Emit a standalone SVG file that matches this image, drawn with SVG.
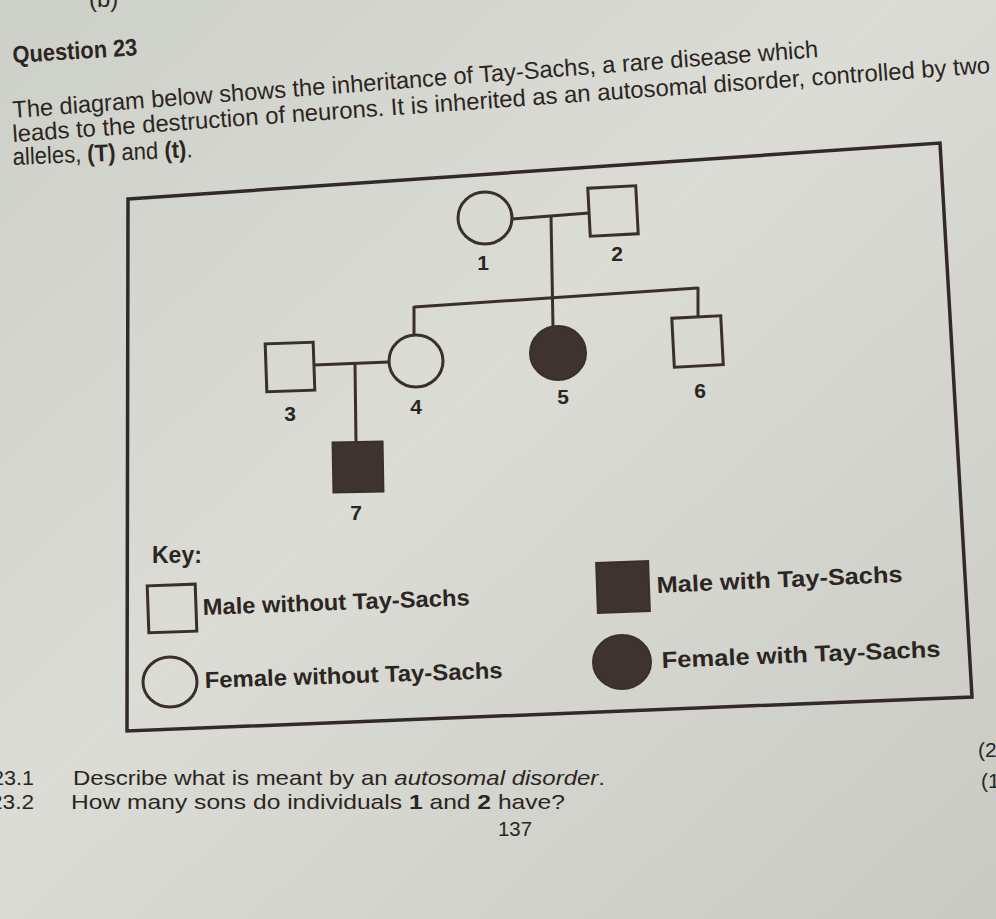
<svg xmlns="http://www.w3.org/2000/svg" width="996" height="919" viewBox="0 0 996 919">
<defs>
<linearGradient id="bg" x1="0" y1="0" x2="1" y2="1">
<stop offset="0" stop-color="#cdd0c8"/>
<stop offset="0.45" stop-color="#dadcd5"/>
<stop offset="1" stop-color="#c8cac3"/>
</linearGradient>
<style>
text{font-family:"Liberation Sans",Arial,sans-serif;fill:#2c2522}
.t{font-size:24px}
.b{font-weight:bold}
.lbl{font-size:21px;font-weight:bold;text-anchor:middle}
.key{font-size:23px;font-weight:bold}
.q{font-size:21px}
.open{fill:none;stroke:#3a2f2b;stroke-width:3}
.fill{fill:#3e3330;stroke:#3a2f2b;stroke-width:2}
.ln{stroke:#3a2f2b;stroke-width:3;fill:none}
</style>
</defs>
<rect width="996" height="919" fill="url(#bg)"/>

<text class="t" x="89" y="7">(b)</text>
<text class="t b" x="13" y="63" textLength="125" lengthAdjust="spacingAndGlyphs" transform="rotate(-3.6 13 63)">Question 23</text>
<text class="t" x="13" y="118" textLength="808" lengthAdjust="spacingAndGlyphs" transform="rotate(-4.33 13 118)">The diagram below shows the inheritance of Tay-Sachs, a rare disease which</text>
<text class="t" x="13" y="142" textLength="980" lengthAdjust="spacingAndGlyphs" transform="rotate(-4.04 13 142)">leads to the destruction of neurons. It is inherited as an autosomal disorder,  controlled by two</text>
<text class="t" x="13" y="165" textLength="180" lengthAdjust="spacingAndGlyphs" transform="rotate(-2.5 13 165)">alleles, <tspan class="b">(T)</tspan> and <tspan class="b">(t)</tspan>.</text>

<polygon id="frame" points="128,199 940,143 972,697 127,731" fill="none" stroke="#33292a" stroke-width="3.5"/>

<g id="connectors">
<line class="ln" x1="512" y1="219" x2="589" y2="213"/>
<line class="ln" x1="551" y1="216" x2="553" y2="327"/>
<line class="ln" x1="414" y1="307" x2="698" y2="288"/>
<line class="ln" x1="414" y1="306" x2="414" y2="335"/>
<line class="ln" x1="698" y1="287" x2="698" y2="317"/>
<line class="ln" x1="314" y1="365" x2="389" y2="362"/>
<line class="ln" x1="355" y1="364" x2="356" y2="442"/>
</g>

<g id="n1"><ellipse class="open" cx="485" cy="218" rx="27" ry="26"/><text class="lbl" x="483" y="270">1</text></g>
<g id="n2"><rect class="open" x="589" y="187" width="48" height="48" transform="rotate(-3 613 211)"/><text class="lbl" x="617" y="261">2</text></g>
<g id="n3"><rect class="open" x="266" y="343" width="48" height="48" transform="rotate(-2 290 367)"/><text class="lbl" x="290" y="421">3</text></g>
<g id="n4"><ellipse class="open" cx="416" cy="361" rx="27" ry="26"/><text class="lbl" x="416" y="414">4</text></g>
<g id="n5"><ellipse class="fill" cx="558" cy="353" rx="28" ry="27"/><text class="lbl" x="563" y="404">5</text></g>
<g id="n6"><rect class="open" x="673" y="317" width="49" height="49" transform="rotate(-3 697 341)"/><text class="lbl" x="700" y="398">6</text></g>
<g id="n7"><rect class="fill" x="333" y="442" width="50" height="50" transform="rotate(-1 358 467)"/><text class="lbl" x="356" y="520">7</text></g>

<g id="key">
<text class="key" x="152" y="563">Key:</text>
<rect class="open" x="148" y="585" width="48" height="47" transform="rotate(-2 172 608)"/>
<text class="key" x="203" y="615" textLength="267" lengthAdjust="spacingAndGlyphs" transform="rotate(-2.1 203 615)">Male without Tay-Sachs</text>
<rect class="fill" x="597" y="562" width="52" height="50" transform="rotate(-2 623 587)"/>
<text class="key" x="657" y="593" textLength="246" lengthAdjust="spacingAndGlyphs" transform="rotate(-2.6 657 593)">Male with Tay-Sachs</text>
<ellipse class="open" cx="170" cy="682" rx="27" ry="25"/>
<text class="key" x="205" y="688" textLength="298" lengthAdjust="spacingAndGlyphs" transform="rotate(-1.9 205 688)">Female without Tay-Sachs</text>
<ellipse class="fill" cx="622" cy="662" rx="29" ry="27"/>
<text class="key" x="662" y="668" textLength="279" lengthAdjust="spacingAndGlyphs" transform="rotate(-2.3 662 668)">Female with Tay-Sachs</text>
</g>

<text class="q" x="-8" y="785" textLength="42" lengthAdjust="spacingAndGlyphs">23.1</text>
<text class="q" x="73" y="785" textLength="532" lengthAdjust="spacingAndGlyphs">Describe what is meant by an <tspan font-style="italic">autosomal disorder</tspan>.</text>
<text class="q" x="-10" y="809" textLength="44" lengthAdjust="spacingAndGlyphs">23.2</text>
<text class="q" x="71" y="809" textLength="494" lengthAdjust="spacingAndGlyphs">How many sons do individuals <tspan class="b">1</tspan> and <tspan class="b">2</tspan> have?</text>
<text class="q" x="515" y="836" text-anchor="middle" textLength="34" lengthAdjust="spacingAndGlyphs">137</text>
<text class="q" x="978" y="757">(2</text>
<text class="q" x="981" y="788">(1</text>
</svg>
